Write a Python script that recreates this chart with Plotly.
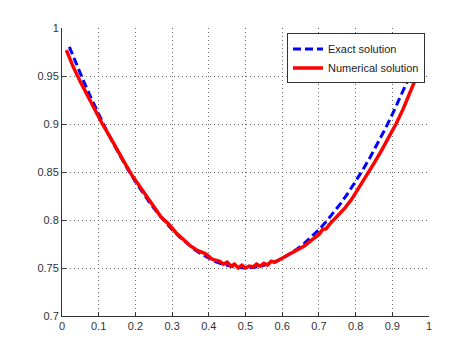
import plotly.graph_objects as go

# Exact solution
exact_x = [0.02, 0.04, 0.06, 0.08, 0.10, 0.12, 0.14, 0.16, 0.18, 0.20, 0.22, 0.24,
           0.26, 0.28, 0.30, 0.32, 0.34, 0.36, 0.38, 0.40, 0.42, 0.44, 0.46, 0.48,
           0.50, 0.52, 0.54, 0.56, 0.58, 0.60, 0.62, 0.64, 0.66, 0.68, 0.70, 0.72,
           0.74, 0.76, 0.78, 0.80, 0.82, 0.84, 0.86, 0.88, 0.90, 0.92, 0.94, 0.96, 0.98]
exact_y = [0.9804, 0.9616, 0.9436, 0.9264, 0.9100, 0.8944, 0.8796, 0.8656, 0.8524,
           0.8400, 0.8284, 0.8176, 0.8076, 0.7984, 0.7900, 0.7824, 0.7756, 0.7696,
           0.7644, 0.7600, 0.7564, 0.7536, 0.7516, 0.7504, 0.7500, 0.7504, 0.7516,
           0.7536, 0.7564, 0.7600, 0.7644, 0.7696, 0.7756, 0.7824, 0.7900, 0.7984,
           0.8076, 0.8176, 0.8284, 0.8400, 0.8524, 0.8656, 0.8796, 0.8944, 0.9100,
           0.9264, 0.9436, 0.9616, 0.9804]

# Numerical solution
num_x = [0.012, 0.03, 0.05, 0.07, 0.09, 0.11, 0.13, 0.15, 0.17, 0.19, 0.21, 0.23,
         0.25, 0.27, 0.29, 0.31, 0.33, 0.35, 0.37, 0.39, 0.41, 0.43, 0.44, 0.45,
         0.46, 0.47, 0.48, 0.49, 0.50, 0.51, 0.52, 0.53, 0.54, 0.55, 0.56, 0.57,
         0.58, 0.60, 0.62, 0.64, 0.66, 0.68, 0.70, 0.71, 0.72, 0.73, 0.75, 0.77,
         0.79, 0.81, 0.83, 0.85, 0.87, 0.89, 0.91, 0.93, 0.95, 0.97, 0.985]
num_y = [0.977, 0.960, 0.944, 0.929, 0.914, 0.900, 0.887, 0.873, 0.860, 0.847,
         0.836, 0.825, 0.813, 0.803, 0.796, 0.787, 0.780, 0.773, 0.768, 0.765,
         0.759, 0.757, 0.754, 0.756, 0.752, 0.754, 0.750, 0.753, 0.750, 0.752,
         0.751, 0.754, 0.752, 0.755, 0.753, 0.757, 0.756, 0.760, 0.764, 0.768,
         0.773, 0.779, 0.785, 0.790, 0.791, 0.796, 0.804, 0.812, 0.822, 0.834,
         0.846, 0.859, 0.872, 0.886, 0.900, 0.916, 0.934, 0.953, 0.970]

x_ticks = [0, 0.1, 0.2, 0.3, 0.4, 0.5, 0.6, 0.7, 0.8, 0.9, 1]
x_tick_labels = ["0", "0.1", "0.2", "0.3", "0.4", "0.5", "0.6", "0.7", "0.8", "0.9", "1"]
y_ticks = [0.7, 0.75, 0.8, 0.85, 0.9, 0.95, 1]
y_tick_labels = ["0.7", "0.75", "0.8", "0.85", "0.9", "0.95", "1"]

fig = go.Figure()
fig.add_trace(go.Scatter(x=exact_x, y=exact_y, mode="lines", name="Exact solution",
                         line=dict(color="#0000FF", width=3, dash="8px,4px")))
fig.add_trace(go.Scatter(x=num_x, y=num_y, mode="lines", name="Numerical solution",
                         line=dict(color="#FF0000", width=3.5)))

axis_common = dict(
    showgrid=True, gridcolor="#666666", griddash="1px,3px", gridwidth=1,
    showline=True, linecolor="#333333", linewidth=1,
    ticks="inside", ticklen=4, tickcolor="#333333",
    zeroline=False, mirror=False,
    tickfont=dict(family="Liberation Sans, Arial", size=11, color="#333333"),
)

# The page body has an 8px default margin, so margins are reduced by 8 on left/top.
fig.update_layout(
    width=474, height=355,
    margin=dict(l=54, r=53, t=20, b=47),
    paper_bgcolor="white", plot_bgcolor="white",
    showlegend=True,
    legend=dict(x=0.989, y=0.981, xanchor="right", yanchor="top",
                bgcolor="white", bordercolor="#333333", borderwidth=1,
                font=dict(family="Liberation Sans, Arial", size=11, color="#222222"),
                tracegroupgap=0, itemwidth=30),
    xaxis=dict(range=[0, 1], tickvals=x_ticks, ticktext=x_tick_labels, **axis_common),
    yaxis=dict(range=[0.7, 1], tickvals=y_ticks, ticktext=y_tick_labels, **axis_common),
)

fig.write_html("out.html")
